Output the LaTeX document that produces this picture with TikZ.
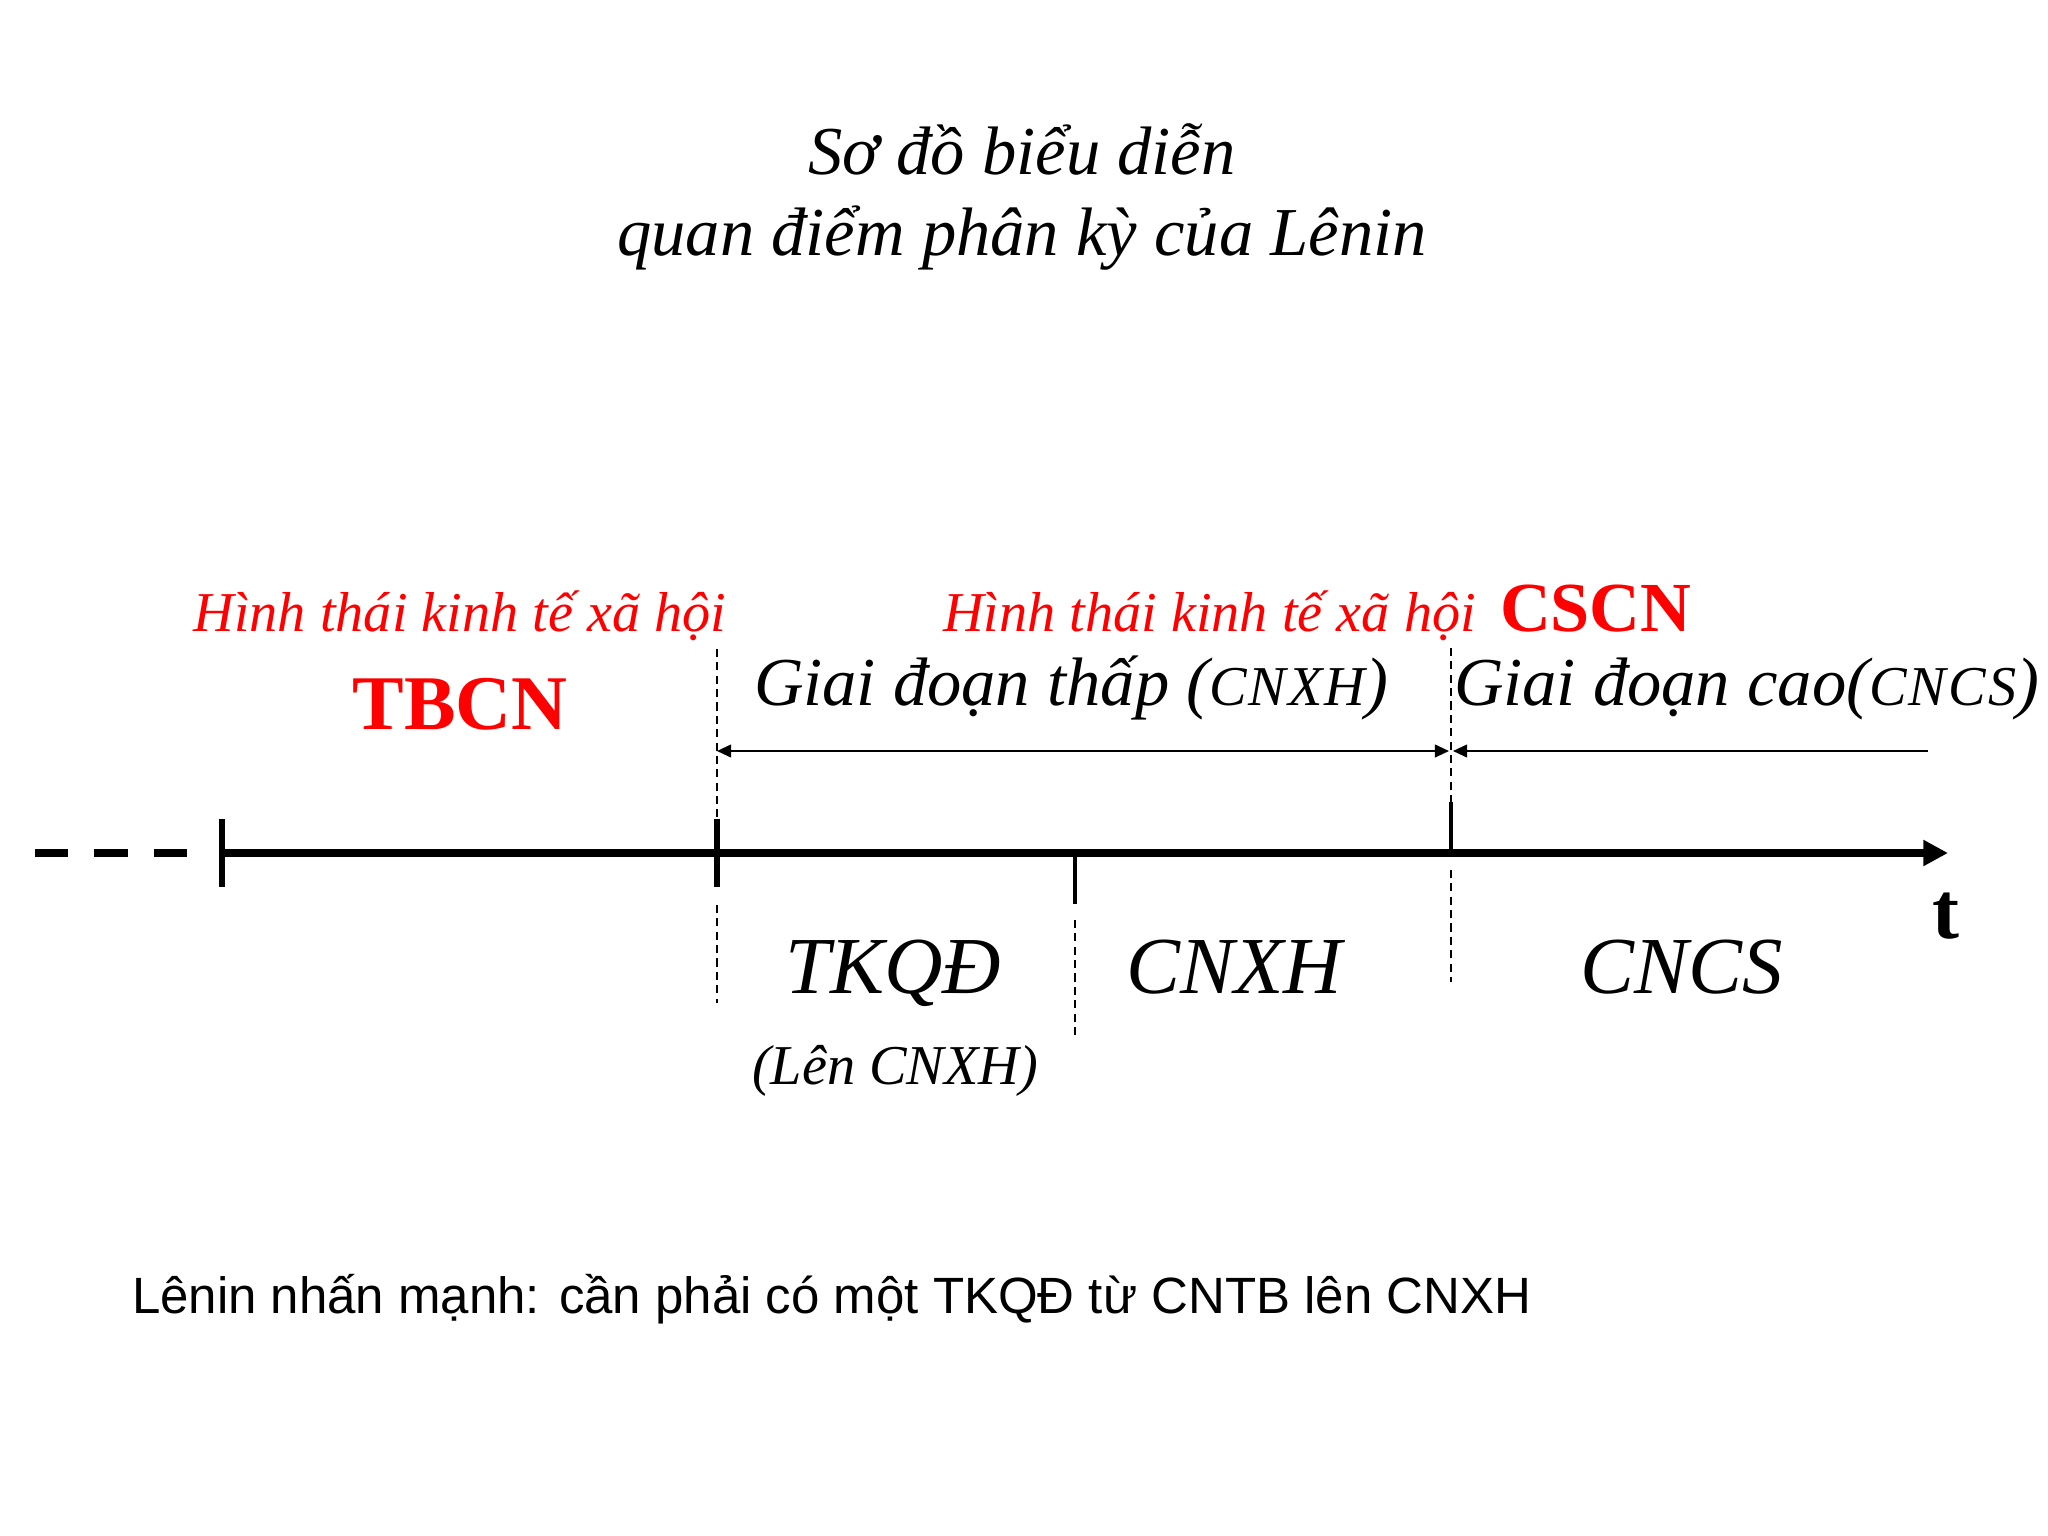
\documentclass[tikz,border=0pt]{standalone}
\usepackage{fontspec}
\setmainfont{Liberation Serif}
\newfontfamily\arialf{Liberation Sans}
\usetikzlibrary{arrows.meta}
\begin{document}
\begin{tikzpicture}[x=0.01cm,y=-0.01cm,
  txt/.style={inner sep=0pt,outer sep=0pt},
  titlef/.style={txt,anchor=base,font=\fontsize{19.5}{23}\selectfont\itshape},
  redlbl/.style={txt,text=red,font=\fontsize{16}{19}\selectfont\itshape},
  stagelbl/.style={txt,anchor=base west,font=\fontsize{19.5}{23}\selectfont\itshape},
  perlbl/.style={txt,anchor=base,font=\fontsize{23}{27}\selectfont\itshape},
  axisline/.style={line width=2pt,-{Triangle[length=7pt,width=7pt]}},
  bigtick/.style={line width=1.7pt},
  smalltick/.style={line width=1.1pt},
  guide/.style={line width=0.4pt,dash pattern=on 2.3pt off 1.5pt},
  span/.style={line width=0.6pt},
  tipS/.tip={Triangle[length=4pt,width=3.6pt]}
]
\useasboundingbox (0,0) rectangle (2048,1536);

% title
\node[titlef] (title1) at (1022,174) {Sơ đồ biểu diễn};
\node[titlef] (title2) at (1022,255) {quan điểm phân kỳ của Lênin};

% red headings
\node[redlbl,anchor=base] (hleft) at (460,631) {Hình thái kinh tế xã hội};
\node[txt,anchor=base,text=red,font=\fontsize{22}{26}\selectfont\bfseries] (tbcn) at (460,729) {TBCN};
\node[redlbl,anchor=base west] (hright) at (943,631) {Hình thái kinh tế xã hội};
\node[txt,anchor=base west,text=red,font=\fontsize{20}{24}\selectfont\bfseries] (cscn) at (1500,631) {CSCN};

% stage labels
\node[stagelbl] (low) at (754,705) {Giai đoạn thấp ({\fontsize{16}{19}\selectfont C\kern0.6pt N\kern0.6pt X\kern0.6pt H})};
\node[stagelbl] (high) at (1454,705) {Giai đoạn cao({\fontsize{16}{19}\selectfont C\kern0.6pt N\kern0.6pt C\kern0.6pt S})};

% coordinates
\coordinate (d0) at (35,853);
\coordinate (d1) at (187,853);
\coordinate (ax0) at (222,853);
\coordinate (axend) at (1948,853);
\coordinate (tAt) at (222,819);
\coordinate (tAb) at (222,887);
\coordinate (tBt) at (717,819);
\coordinate (tBb) at (717,887);
\coordinate (tCt) at (1075,857);
\coordinate (tCb) at (1075,904);
\coordinate (tDt) at (1451,802);
\coordinate (tDb) at (1451,850);
\coordinate (gBu) at (717,649);
\coordinate (gBl1) at (717,905);
\coordinate (gBl2) at (717,1003);
\coordinate (gCl1) at (1075,920);
\coordinate (gCl2) at (1075,1035);
\coordinate (gDu) at (1451,648);
\coordinate (gDl1) at (1451,870);
\coordinate (gDl2) at (1451,982);
\coordinate (s1) at (717,751);
\coordinate (s2) at (1449,751);
\coordinate (s3) at (1453,751);
\coordinate (s4) at (1928,751);

% left dashed lead-in
\draw[line width=2.2pt,dash pattern=on 9.5pt off 7.4pt] (d0) -- (d1);
% axis
\draw[axisline] (ax0) -- (axend);
\draw[bigtick] (tAt) -- (tAb);
\draw[bigtick] (tBt) -- (tBb);
\draw[smalltick] (tCt) -- (tCb);
\draw[smalltick] (tDt) -- (tDb);

% guides
\draw[guide] (gBu) -- (tBt);
\draw[guide] (gBl1) -- (gBl2);
\draw[guide] (gCl1) -- (gCl2);
\draw[guide] (gDu) -- (tDt);
\draw[guide] (gDl1) -- (gDl2);

% spans
\draw[span,tipS-tipS] (s1) -- (s2);
\draw[span,tipS-] (s3) -- (s4);

% period labels
\node[perlbl] (tkqd) at (893,993) {TKQĐ};
\node[perlbl] (cnxh) at (1234,993) {CNXH};
\node[perlbl] (cncs) at (1682,993) {CNCS};
\node[txt,anchor=base,font=\fontsize{16}{19}\selectfont\itshape] (len) at (895,1084) {(Lên CNXH)};
\node[txt,anchor=base,font=\fontsize{23}{27}\selectfont\bfseries] (tlab) at (1946,938) {t};

% note
\node[txt,anchor=base west,font=\arialf\fontsize{14.5}{17}\selectfont] (note) at (132,1313) {Lênin nhấn mạnh: cần phải có một TKQĐ từ CNTB lên CNXH};
\end{tikzpicture}
\end{document}
